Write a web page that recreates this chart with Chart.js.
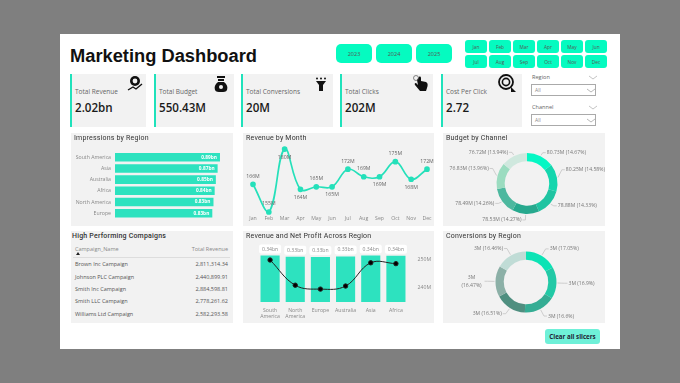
<!DOCTYPE html>
<html lang="en">
<head>
<meta charset="UTF-8">
<title>Marketing Dashboard</title>
<script src="https://cdn.jsdelivr.net/npm/chart.js@4/dist/chart.umd.min.js"></script>
<style>
html, body { margin: 0; padding: 0; width: 680px; height: 383px; overflow: hidden; background: #7f7f7f; font-family: "Open Sans", sans-serif; color: #555; }
#wrap { position: absolute; left: 0; top: 0; width: 680px; height: 383px; filter: blur(0.3px); }
#page { position: absolute; left: 60px; top: 34px; width: 560px; height: 315px; background: #fff; }
.abs, .panel, .card, .btn, .drop, canvas, svg { position: absolute; }
h1 { position: absolute; left: 70px; top: 45px; margin: 0; font: bold 18.3px "Liberation Sans", sans-serif; color: #111; white-space: nowrap; }
.btn { background: #05fbc0; display: flex; align-items: center; justify-content: center; color: #555; box-sizing: border-box; }
.year { width: 36px; height: 19px; border-radius: 5px; font-size: 5.5px; top: 44px; }
.month { width: 22px; height: 13px; border-radius: 3px; font-size: 4.8px; }
.card { top: 74px; height: 53px; background: #f2f2f2; border-left: 2px solid #1fe2bb; box-sizing: border-box; }
.card .lbl { position: absolute; left: 3px; top: 13px; font-size: 6.5px; color: #666; white-space: nowrap; }
.card .val { position: absolute; left: 3px; top: 26px; font-size: 11.6px; font-weight: 600; color: #1a1a1a; white-space: nowrap; }
.panel { background: #f2f2f2; }
.panel .ttl { position: absolute; left: 3px; top: 1px; font: 400 7px Roboto, sans-serif; letter-spacing: .2px; color: #333; white-space: nowrap; z-index: 2; }
.drop { left: 531px; width: 65px; height: 12px; background: #fff; border: 1px solid #aaa; box-sizing: border-box; font-size: 5px; line-height: 10px; padding-left: 3px; color: #888; }
.slab { position: absolute; left: 532px; font-size: 5.6px; color: #666; }
table { position: absolute; left: 2px; top: 14px; width: 157px; border-collapse: collapse; font-size: 5.5px; color: #555; }
th { font-weight: 400; color: #888; text-align: left; height: 12px; padding: 0 2px; border-bottom: 1px solid #ddd; vertical-align: top; }
td { height: 12.4px; padding: 0 2px; white-space: nowrap; }
.num { text-align: right; }
#clear { left: 545px; top: 329px; width: 55px; height: 15px; background: #6ff0d8; border-radius: 3px; font-size: 6.2px; font-weight: 700; color: #223; }
</style>
</head>
<body>
<div id="wrap">
<div id="page"></div>
<h1>Marketing Dashboard</h1>
<div id="years"></div>
<div id="months"></div>
<div id="cards"></div>

<div class="slab" style="top:73px">Region</div>
<div class="drop" style="top:84px">All</div>
<div class="slab" style="top:103px">Channel</div>
<div class="drop" style="top:114px">All</div>
<svg style="left:588px;top:75px" width="10" height="5"><path d="M1 1l4 3 4-3" fill="none" stroke="#aaa" stroke-width=".7"/></svg>
<svg style="left:586px;top:88px" width="10" height="5"><path d="M1 1l4 3 4-3" fill="none" stroke="#999" stroke-width=".7"/></svg>
<svg style="left:588px;top:105px" width="10" height="5"><path d="M1 1l4 3 4-3" fill="none" stroke="#aaa" stroke-width=".7"/></svg>
<svg style="left:586px;top:118px" width="10" height="5"><path d="M1 1l4 3 4-3" fill="none" stroke="#999" stroke-width=".7"/></svg>

<!-- иконки карточек -->
<svg style="left:127px;top:75px" width="18" height="18" viewBox="0 0 18 18"><circle cx="8" cy="6" r="5" fill="#111"/><circle cx="8" cy="6" r="2.4" fill="#f2f2f2"/><path d="M1 15l5-3 3 2 6-5" fill="none" stroke="#111" stroke-width="1.4"/></svg>
<svg style="left:213px;top:75px" width="16" height="18" viewBox="0 0 16 18"><rect x="4" y="1" width="8" height="2" fill="#111"/><rect x="5" y="4" width="6" height="2" fill="#111"/><path d="M5 7h6c3 2 4 5 3 8-1 2-3 2-6 2s-5 0-6-2c-1-3 0-6 3-8z" fill="#111"/><circle cx="8" cy="12" r="2" fill="#f2f2f2"/></svg>
<svg style="left:314px;top:77px" width="14" height="15" viewBox="0 0 14 15"><path d="M2 4h10l-3 4v6H5V8z" fill="#111"/><circle cx="3" cy="1.5" r="1" fill="#111"/><circle cx="7" cy="1.5" r="1" fill="#111"/><circle cx="11" cy="1.5" r="1" fill="#111"/></svg>
<svg style="left:412px;top:75px" width="18" height="19" viewBox="0 0 18 19"><path d="M5 5l2-3c1-1 2 0 2 1v3l5 1c2 1 2 3 1 6l-1 3H8L3 10c-1-2 1-3 2-1l1 1z" fill="#111"/><circle cx="4" cy="3" r="2.5" fill="none" stroke="#555" stroke-width=".7"/></svg>
<svg style="left:497px;top:74px" width="20" height="19" viewBox="0 0 20 19"><circle cx="9" cy="8" r="7" fill="none" stroke="#111" stroke-width="1.8"/><circle cx="9" cy="8" r="3.6" fill="none" stroke="#111" stroke-width="1.6"/><path d="M14 13l5 5h-5z" fill="#111"/></svg>

<div class="panel" style="left:71px;top:133px;width:162px;height:93px"><div class="ttl">Impressions by Region</div><canvas id="barChart" width="162" height="93"></canvas></div>
<div class="panel" style="left:243px;top:133px;width:191px;height:93px"><div class="ttl">Revenue by Month</div><canvas id="lineChart" width="191" height="93"></canvas></div>
<div class="panel" style="left:443px;top:133px;width:162px;height:93px"><div class="ttl">Budget by Channel</div><canvas id="budgetChart" width="162" height="93"></canvas></div>
<div class="panel" style="left:71px;top:231px;width:162px;height:92px"><div class="ttl" style="font-weight:500;left:1px">High Performing Compaigns</div><table id="campaigns"></table>
<svg style="left:5px;top:21px" width="4" height="3"><path d="M0 3l2-3 2 3z" fill="#222"/></svg></div>
<div class="panel" style="left:243px;top:231px;width:191px;height:92px"><div class="ttl">Revenue and Net Profit Across Region</div><canvas id="comboChart" width="191" height="92"></canvas></div>
<div class="panel" style="left:443px;top:231px;width:162px;height:92px"><div class="ttl">Conversions by Region</div><canvas id="convChart" width="162" height="92"></canvas></div>
<div class="btn" id="clear">Clear all slicers</div>
</div>

<script>
// данные
const years = ['2023', '2024', '2025']
const monthNames = ['Jan', 'Feb', 'Mar', 'Apr', 'May', 'Jun', 'Jul', 'Aug', 'Sep', 'Oct', 'Nov', 'Dec']
const kpiNames = ['Total Revenue', 'Total Budget', 'Total Conversions', 'Total Clicks', 'Cost Per Click']
const kpiValues = ['2.02bn', '550.43M', '20M', '202M', '2.72']

const impRegions = ['South America', 'Asia', 'Australia', 'Africa', 'North America', 'Europe']
const impValues = [0.89, 0.87, 0.855, 0.845, 0.835, 0.825]
const impLabels = ['0.89bn', '0.87bn', '0.85bn', '0.84bn', '0.83bn', '0.83bn']

const revMonthValues = [166, 155, 180, 164, 165, 165, 172, 169, 169, 175, 168, 172]
const revMonthLabels = ['166M', '155M', '180M', '164M', '165M', '165M', '172M', '169M', '169M', '175M', '168M', '172M']

const budgetValues = [80.73, 80.25, 78.88, 78.53, 78.49, 76.83, 76.72]
const budgetLabels = ['80.73M (14.67%)', '80.25M (14.58%)', '78.88M (14.33%)', '78.53M (14.27%)', '78.49M (14.26%)', '76.83M (13.96%)', '76.72M (13.94%)']
const budgetColors = ['#05f7c4', '#14d6ae', '#1fc4a2', '#27a98e', '#4db89f', '#9bdcc0', '#cfe8de']

const campaignNames = ['Brown Inc Campaign', 'Johnson PLC Campaign', 'Smith Inc Campaign', 'Smith LLC Campaign', 'Williams Ltd Campaign']
const campaignRevenue = ['2,811,314.34', '2,440,899.91', '2,884,598.81', '2,778,261.62', '2,582,293.58']

const comboRegions = [['South', 'America'], ['North', 'America'], 'Europe', 'Australia', 'Asia', 'Africa']
const comboRevenue = [0.342, 0.333, 0.331, 0.335, 0.342, 0.341]
const comboRevenueLabels = ['0.34bn', '0.33bn', '0.33bn', '0.33bn', '0.34bn', '0.34bn']
const comboProfit = [250, 241, 239.6, 240.7, 249, 248.7]

const convValues = [3.41, 3.38, 3.32, 3.30, 3.29, 3.29]
const convLabels = ['3M (17.05%)', '3M (16.9%)', '3M (16.6%)', '3M (16.51%)', ['3M', '(16.47%)'], '3M (16.46%)']
const convColors = ['#0ce3b5', '#22c9a6', '#35ad94', '#4f8f80', '#8cb0a7', '#c0dcd6']

// верхние кнопки, карточки, таблица
function addBtn(parent, cls, text, left, top) {
    const d = document.createElement('div')
    d.className = 'btn ' + cls
    d.textContent = text
    d.style.left = left + 'px'
    if (top) d.style.top = top + 'px'
    parent.appendChild(d)
}
years.forEach((y, i) => addBtn(document.getElementById('years'), 'year', y, 336 + i * 40))
monthNames.forEach((m, i) => addBtn(document.getElementById('months'), 'month', m, 465 + (i % 6) * 24, i < 6 ? 40 : 55))

const cardBoxes = [[70, 76], [154, 80], [241, 92], [340, 93], [441, 81]]
kpiNames.forEach((name, i) => {
    const c = document.createElement('div')
    c.className = 'card'
    c.style.left = cardBoxes[i][0] + 'px'
    c.style.width = cardBoxes[i][1] + 'px'
    c.innerHTML = '<div class="lbl">' + name + '</div><div class="val">' + kpiValues[i] + '</div>'
    document.getElementById('cards').appendChild(c)
})

let rows = '<tr><th>Campaign_Name</th><th class="num">Total Revenue</th></tr>'
campaignNames.forEach((n, i) => { rows += '<tr><td>' + n + '</td><td class="num">' + campaignRevenue[i] + '</td></tr>' })
document.getElementById('campaigns').innerHTML = rows

// подписи для столбцов и линии
const valueLabels = {
    id: 'valueLabels',
    afterDatasetsDraw(chart, args, opts) {
        if (!opts.texts) return
        const ctx = chart.ctx
        const points = chart.getDatasetMeta(opts.dataset || 0).data
        ctx.save()
        ctx.font = opts.font
        ctx.textBaseline = 'middle'
        points.forEach((pt, i) => {
            const t = opts.texts[i]
            if (opts.mode === 'insideEnd') {
                ctx.textAlign = 'right'
                ctx.fillStyle = opts.color
                ctx.fillText(t, pt.x - 3, pt.y)
            } else if (opts.mode === 'pill') {
                ctx.fillStyle = '#fff'
                ctx.beginPath()
                ctx.roundRect(pt.x - 11, pt.y - 11, 22, 9, 2)
                ctx.fill()
                ctx.textAlign = 'center'
                ctx.fillStyle = opts.color
                ctx.fillText(t, pt.x, pt.y - 6.5)
            } else {
                ctx.textAlign = 'center'
                ctx.fillStyle = opts.color
                ctx.fillText(t, pt.x, pt.y + opts.sides[i] * 8)
            }
        })
        ctx.restore()
    }
}

// подписи кольца с выносками
const ringLabels = {
    id: 'ringLabels',
    afterDatasetsDraw(chart, args, opts) {
        if (!opts.texts) return
        const ctx = chart.ctx
        ctx.save()
        ctx.font = '5.1px "Open Sans"'
        ctx.textBaseline = 'middle'
        chart.getDatasetMeta(0).data.forEach((arc, i) => {
            const p = arc.getProps(['x', 'y', 'startAngle', 'endAngle', 'outerRadius'], true)
            const mid = (p.startAngle + p.endAngle) / 2
            const nudge = opts.nudge[i] || 0
            const ax = p.x + Math.cos(mid) * (p.outerRadius + 1)
            const ay = p.y + Math.sin(mid) * (p.outerRadius + 1)
            const ex = p.x + Math.cos(mid) * (p.outerRadius + opts.reach)
            const ey = p.y + Math.sin(mid) * (p.outerRadius + opts.reach) + nudge
            const dir = Math.cos(mid) >= -0.02 ? 1 : -1
            ctx.strokeStyle = '#b5b5b5'
            ctx.lineWidth = 0.6
            ctx.beginPath()
            ctx.moveTo(ax, ay)
            ctx.lineTo(ex, ey)
            ctx.lineTo(ex + dir * 3, ey)
            ctx.stroke()
            ctx.fillStyle = '#777'
            ctx.textAlign = dir > 0 ? 'left' : 'right'
            const t = opts.texts[i]
            if (Array.isArray(t)) {
                ctx.textAlign = 'center'
                ctx.fillText(t[0], ex - 16, ey - 4)
                ctx.fillText(t[1], ex - 16, ey + 4)
            } else {
                ctx.fillText(t, ex + dir * 4, ey)
            }
        })
        ctx.restore()
    }
}

Chart.register(valueLabels, ringLabels)
Chart.defaults.animation = false
Chart.defaults.responsive = false
Chart.defaults.font.family = '"Open Sans"'
Chart.defaults.font.size = 5.2
Chart.defaults.color = '#888'
Chart.defaults.plugins.legend.display = false
Chart.defaults.plugins.tooltip.enabled = false

const noGrid = { display: false, drawTicks: false }

new Chart(document.getElementById('barChart'), {
    type: 'bar',
    data: {
        labels: impRegions,
        datasets: [{ data: impValues, backgroundColor: '#2de2bf', categoryPercentage: 1, barPercentage: 0.76 }]
    },
    options: {
        indexAxis: 'y',
        layout: { padding: { top: 18.6, right: 5, bottom: 6 } },
        scales: {
            x: { display: false, min: 0, max: 0.958 },
            y: {
                afterFit: s => { s.width = 44 },
                grid: noGrid, border: { display: false },
                ticks: { padding: 4, autoSkip: false }
            }
        },
        plugins: { valueLabels: { texts: impLabels, mode: 'insideEnd', color: '#fff', font: 'bold 4.8px "Open Sans"' } }
    }
})

new Chart(document.getElementById('lineChart'), {
    type: 'line',
    data: {
        labels: monthNames,
        datasets: [{
            data: revMonthValues, borderColor: '#25e0ba', backgroundColor: '#25e0ba',
            borderWidth: 1.7, tension: 0.4, pointRadius: 2, clip: false
        }]
    },
    options: {
        layout: { padding: { left: 10, right: 7, top: 9 } },
        scales: {
            x: {
                offset: false,
                afterFit: s => { s.height = 12 },
                grid: noGrid, border: { display: false },
                ticks: { padding: 1, maxRotation: 0, autoSkip: false }
            },
            y: { display: false, min: 154.2, max: 182.8 }
        },
        plugins: {
            valueLabels: {
                texts: revMonthLabels, color: '#666', font: '5.2px "Open Sans"',
                sides: [-1, -1, 1, 1, -1, 1, -1, -1, 1, -1, 1, -1]
            }
        }
    }
})

new Chart(document.getElementById('budgetChart'), {
    type: 'doughnut',
    data: {
        labels: budgetLabels,
        datasets: [{ data: budgetValues, backgroundColor: budgetColors, borderWidth: 0 }]
    },
    options: {
        cutout: '73%',
        layout: { padding: { left: 44, right: 38, top: 20, bottom: 12 } },
        plugins: { ringLabels: { texts: budgetLabels, reach: 5, nudge: [1, -7, -1, 1, -1, -6, 1] } }
    }
})

new Chart(document.getElementById('comboChart'), {
    type: 'bar',
    data: {
        labels: comboRegions,
        datasets: [
            { type: 'line', data: comboProfit, yAxisID: 'y1', borderColor: '#222', backgroundColor: '#000', borderWidth: 1, tension: 0.4, pointRadius: 2.2, order: 0 },
            { type: 'bar', data: comboRevenue, yAxisID: 'y', backgroundColor: '#2de2bf', categoryPercentage: 1, barPercentage: 0.76, order: 1 }
        ]
    },
    options: {
        layout: { padding: { left: 14.5, top: 16 } },
        scales: {
            x: {
                afterFit: s => { s.height = 21 },
                grid: noGrid, border: { display: false },
                ticks: { padding: 5, maxRotation: 0, autoSkip: false }
            },
            y: { display: false, min: 0, max: 0.405 },
            y1: {
                position: 'right', min: 235, max: 254.64,
                afterFit: s => { s.width = 25.5 },
                afterBuildTicks: s => { s.ticks = [{ value: 240 }, { value: 250 }] },
                grid: noGrid, border: { display: false },
                ticks: { padding: 9, callback: v => v + 'M' }
            }
        },
        plugins: { valueLabels: { dataset: 1, texts: comboRevenueLabels, mode: 'pill', color: '#888', font: '5.1px "Open Sans"' } }
    }
})

new Chart(document.getElementById('convChart'), {
    type: 'doughnut',
    data: {
        labels: convLabels,
        datasets: [{ data: convValues, backgroundColor: convColors, borderWidth: 0 }]
    },
    options: {
        cutout: '73%',
        layout: { padding: { left: 43, right: 39, top: 20.5, bottom: 10.5 } },
        plugins: { ringLabels: { texts: convLabels, reach: 8, nudge: [0, 0, 0, -1, 0, 0] } }
    }
})
</script>
</body>
</html>
